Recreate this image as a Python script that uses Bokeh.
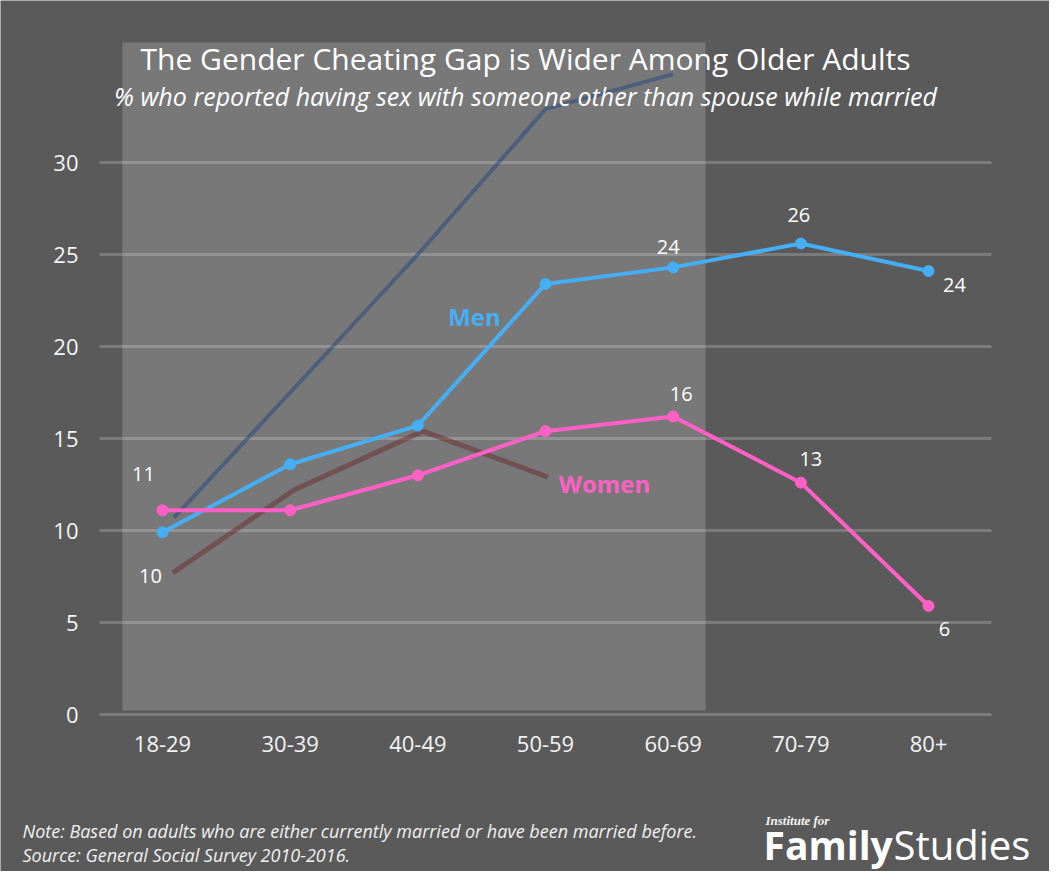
from bokeh.plotting import figure
from bokeh.models import Label, FixedTicker, ColumnDataSource
from bokeh.core.properties import value
from bokeh.embed import file_html
from bokeh.resources import INLINE

# ---------------- data ----------------
categories = ["18-29", "30-39", "40-49", "50-59", "60-69", "70-79", "80+"]
men = [9.9, 13.6, 15.7, 23.4, 24.3, 25.6, 24.1]
women = [11.1, 11.1, 13.0, 15.4, 16.2, 12.6, 5.9]
# faint "ghost" series visible behind the chart in the original image
ghost_blue_x = [0.09, 1.0, 2.0, 3.0, 4.0]
ghost_blue = [10.7, 17.5, 25.0, 32.9, 34.8]
ghost_red_x = [0.08, 1.03, 2.04, 3.02]
ghost_red = [7.7, 12.2, 15.4, 12.9]
y_ticks = [0, 5, 10, 15, 20, 25, 30]
men_labelled = [0, 4, 5, 6]
women_labelled = [0, 4, 5, 6]

# ---------------- styling / geometry ----------------
X0, DX, Y0, DY = 162.0, 127.67, 714.0, 18.4   # reference pixel geometry
W, H = 1049, 871


def px_x(px):
    return (px - X0) / DX


def px_y(py):
    return (Y0 - py) / DY


BG = "#5a5a5a"
BAND = "#787878"
MEN_C = "#45aef5"
WOMEN_C = "#ff60c6"
FONT = "Open Sans"

men_dx = [-12, -5, -2, 26]
men_dy = [44, -20, -28, 14]
women_dx = [-19, 8, 10, 16]
women_dy = [-36, -22, -24, 23]

xs = list(range(len(categories)))

p = figure(width=W, height=H, frame_width=W, frame_height=H, min_border=0,
           x_range=(px_x(0), px_x(W)), y_range=(px_y(H), px_y(0)),
           output_backend="svg", toolbar_location=None)
p.background_fill_color = BG
p.border_fill_color = BG
p.outline_line_color = None
p.grid.visible = False

# light band behind the left part of the chart
p.quad(left=[px_x(122)], right=[px_x(705)], bottom=[px_y(710)], top=[px_y(42)],
       fill_color=BAND, line_color=None, level="underlay")

# horizontal gridlines (limited to the plotting area)
p.segment(x0=[px_x(99)] * len(y_ticks), x1=[px_x(991)] * len(y_ticks),
          y0=y_ticks, y1=y_ticks, line_color="white", line_alpha=0.2, line_width=3)

# axes drawn at fixed locations
p.yaxis.ticker = FixedTicker(ticks=y_ticks)
p.xaxis.ticker = FixedTicker(ticks=xs)
p.xaxis.major_label_overrides = {i: c for i, c in enumerate(categories)}
p.xaxis.fixed_location = px_y(730)
p.yaxis.fixed_location = px_x(99)
for ax in (p.xaxis[0], p.yaxis[0]):
    ax.axis_line_color = None
    ax.major_tick_line_color = None
    ax.minor_tick_line_color = None
    ax.major_tick_out = 0
    ax.major_tick_in = 0
    ax.minor_tick_out = 0
    ax.major_label_text_color = "#f4f4f4"
    ax.major_label_text_font = FONT
    ax.major_label_text_font_size = "22px"
p.yaxis.major_label_standoff = 21
p.xaxis.major_label_standoff = 5

# ghost lines
p.line(ghost_blue_x, ghost_blue, line_color="#2a4a80", line_alpha=0.55, line_width=4)
p.line(ghost_red_x, ghost_red, line_color="#6a2a2a", line_alpha=0.5, line_width=5)

# main series
p.line(xs, men, line_color=MEN_C, line_width=4)
p.scatter(xs, men, size=11, fill_color=MEN_C, line_color=MEN_C)
p.line(xs, women, line_color=WOMEN_C, line_width=4)
p.scatter(xs, women, size=11, fill_color=WOMEN_C, line_color=WOMEN_C)

# data labels
men_src = ColumnDataSource(dict(
    x=[xs[i] for i in men_labelled],
    y=[men[i] for i in men_labelled],
    t=[str(int(round(men[i]))) for i in men_labelled],
    dx=men_dx, dy=men_dy))
women_src = ColumnDataSource(dict(
    x=[xs[i] for i in women_labelled],
    y=[women[i] for i in women_labelled],
    t=[str(int(round(women[i]))) for i in women_labelled],
    dx=women_dx, dy=women_dy))
for src in (men_src, women_src):
    p.text(x="x", y="y", text="t", x_offset="dx", y_offset="dy", source=src,
           text_color="white", text_font=value(FONT), text_font_size="20px",
           text_align="center", text_baseline="middle")


def add_text(px, py, text, size, color="white", style="normal", align="left", font=FONT):
    p.add_layout(Label(x=px_x(px), y=px_y(py), text=text, text_color=color,
                       text_font=font, text_font_size=size, text_font_style=style,
                       text_align=align, text_baseline="middle"))


# series labels
add_text(474, 316, "Men", "24px", MEN_C, "bold", "center")
add_text(604, 483, "Women", "24px", WOMEN_C, "bold", "center")

# titles
add_text(525, 58, "The Gender Cheating Gap is Wider Among Older Adults", "30px", align="center")
add_text(525, 95, "% who reported having sex with someone other than spouse while married",
         "25px", style="italic", align="center")

# footer
add_text(22, 830, "Note: Based on adults who are either currently married or have been married before.",
         "18px", "#f0f0f0", "italic")
add_text(22, 854, "Source: General Social Survey 2010-2016.", "18px", "#f0f0f0", "italic")

# logo
add_text(765, 820, "Institute for", "13px", "#f4f4f4", "bold italic", font="Liberation Serif")
add_text(763, 844, "Family", "39px", "white", "bold")
add_text(893, 844, "Studies", "40px", "white", "normal")

open("out.html", "w").write(file_html(p, INLINE))
